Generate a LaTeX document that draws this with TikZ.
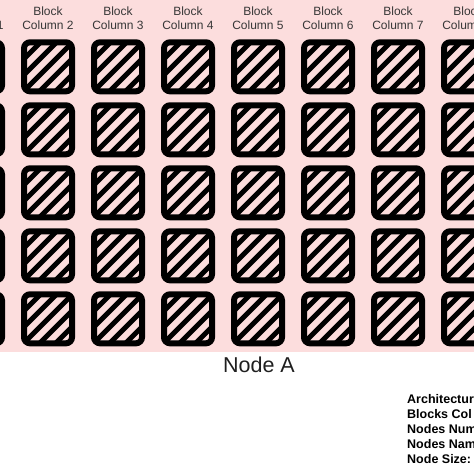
\documentclass[tikz,border=0pt]{standalone}
\usepackage{fontspec}
\setmainfont{Liberation Sans}
\definecolor{bgpink}{RGB}{252,221,221}
\definecolor{txtgray}{RGB}{55,55,55}
\begin{document}
\begin{tikzpicture}[x=1pt,y=-1pt,
  tile/.style={draw=black, line width=6pt, rounded corners=6pt,
    minimum width=48pt, minimum height=49pt, inner sep=0pt, fill=bgpink,
    path picture={
      \foreach \s in {-32,-16,0,16,32}{
        \draw[line width=5pt, black, shift={(path picture bounding box.center)}]
          (\s-40,40) -- (\s+40,-40);}
    }},
  collabel/.style={font=\fontsize{12}{14}\selectfont, text=txtgray, inner sep=0pt, anchor=base},
  info/.style={font=\fontsize{12.5}{14}\selectfont\bfseries, text=black, inner sep=0pt, anchor=base west}
]
\path[use as bounding box, clip] (0,0) rectangle (474,474);
\fill[white] (0,0) rectangle (474,474);
\fill[bgpink] (0,0) rectangle (474,352);
\foreach \c [evaluate=\c as \xx using 118+70*(\c-3)] in {1,...,8} {
  \foreach \r [evaluate=\r as \yy using 66.8+63*(\r-1)] in {1,...,5} {
    \node[tile] (t\c-\r) at (\xx,\yy) {};
  }
  \node[collabel] (b\c) at (\xx,15) {Block};
  \node[collabel] (c\c) at (\xx,29) {Column \c};
}
\node[font=\fontsize{21.5}{24}\selectfont, text=black!88, inner sep=0pt, anchor=base] (nodea) at (259,372.5) {Node A};
\node[info] (i1) at (407,403) {Architectur};
\node[info] (i2) at (407,418) {Blocks Col};
\node[info] (i3) at (407,433) {Nodes Num};
\node[info] (i4) at (407,448) {Nodes Nam};
\node[info] (i5) at (407,463) {Node Size:};
\end{tikzpicture}
\end{document}
